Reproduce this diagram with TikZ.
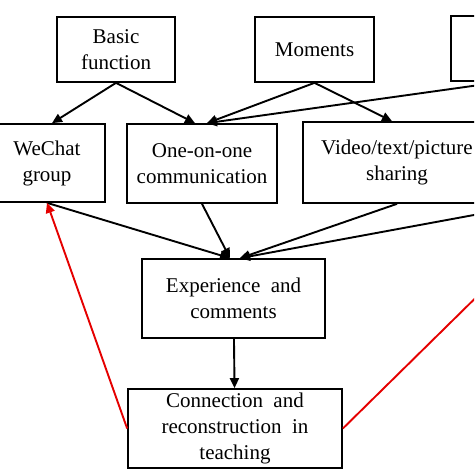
\documentclass[tikz,border=0pt]{standalone}
\usepackage{fontspec}
\setmainfont{Liberation Serif}
\usetikzlibrary{arrows.meta}
\newcommand\boxfont{\fontsize{10.5}{13}\selectfont\setlength{\spaceskip}{5.2pt}}
\tikzset{
    box/.style={draw, line width=0.85pt, inner sep=0pt, align=center,
        font=\boxfont},
    flow/.style={-{Triangle[length=5pt,width=4.5pt]}, line width=0.95pt},
    back/.style={flow, color=red!90!black},
}

\begin{document}
\begin{tikzpicture}[x=0.5pt, y=-0.5pt]
    \useasboundingbox (0,0) rectangle (474,474);
    \clip (0,0) rectangle (474,474);
    % top row
    \node[box, minimum width=59pt, minimum height=32.5pt] (basic) at (116,49.5) {Basic\\function};
    \node[box, minimum width=59.5pt, minimum height=32.5pt] (moments) at (314.5,49.5) {Moments};
    \node[box, minimum width=51pt, minimum height=32.5pt] (third) at (502,48.5) {};
    % second row
    \node[box, minimum width=58pt, minimum height=39pt] (wechat) at (47,163) {WeChat\\group};
    \node[box, minimum width=75pt, minimum height=39.5pt] (oneone) at (202,163.5) {One-on-one\\communication};
    \node[box, minimum width=94pt, minimum height=40.5pt] (video) at (397,162.5) {Video/text/picture\\sharing};
    \coordinate (side) at (539,203);
    \coordinate (side in) at (572,203);
    % lower part
    \node[box, minimum width=91.5pt, minimum height=39.5pt] (exper) at (233.5,298.5) {Experience and\\comments};
    \node[box, minimum width=107pt, minimum height=39.5pt] (connect) at (235,428.5) {Connection and\\reconstruction in\\teaching};

    \draw[flow] (basic.south) -- ([xshift=2.5pt]wechat.north);
    \draw[flow] (basic.south) -- ([xshift=-3.5pt]oneone.north);
    \draw[flow] (moments.south) -- ([xshift=2.5pt]oneone.north);
    \draw[flow] (moments.south) -- ([xshift=-2.5pt]video.north);
    \draw[flow] (third.south) -- ([xshift=2.5pt]oneone.north);
    \draw[flow] (wechat.south) -- ([xshift=-1.75pt]exper.north);
    \draw[flow] (oneone.south) -- ([xshift=-1.75pt]exper.north);
    \draw[flow] (video.south) -- ([xshift=3.25pt]exper.north);
    \draw[flow] (side) -- ([xshift=3.25pt]exper.north);
    \draw[flow] (exper) -- (connect);
    %\draw[back] (connect.south) -- (exper.south);
    \draw[back] (connect.west) -- (wechat.south);
    \draw[back] (connect.east) -- (side in);
\end{tikzpicture}
\end{document}
